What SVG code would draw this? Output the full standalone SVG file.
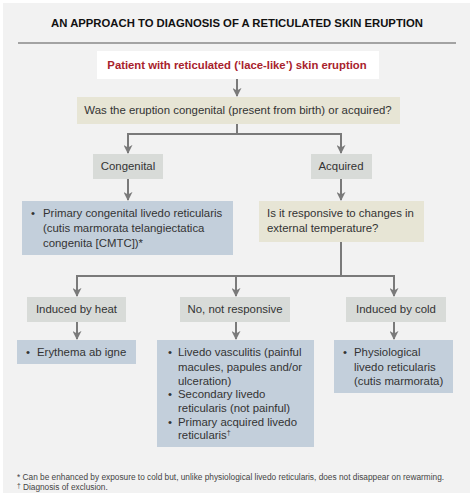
<svg xmlns="http://www.w3.org/2000/svg" width="474" height="496" viewBox="0 0 474 496">
<defs>
<style>
text{font-family:"Liberation Sans",Arial,sans-serif;fill:#333;font-size:11.4px}
.t{font-weight:bold;font-size:11.3px;fill:#111;text-anchor:middle}
.red{font-weight:bold;font-size:11.3px;fill:#a8222c;text-anchor:middle}
.c{text-anchor:middle}
.fn{font-size:8.3px;fill:#444}
.ln{fill:none;stroke:#7a7a7a;stroke-width:2}
.beige{fill:#e7e5d5}
.grey{fill:#d8dbd8}
.blue{fill:#c3cfdb}
</style>
<marker id="ah" viewBox="0 0 10 10" refX="9" refY="5" markerWidth="4.5" markerHeight="4.5" orient="auto" markerUnits="strokeWidth">
<path d="M0,0 L10,5 L0,10 L3,5 Z" fill="#7a7a7a"/>
</marker>
</defs>
<rect x="0" y="0" width="474" height="496" fill="#fff"/>
<rect x="3" y="3" width="467" height="490" fill="#f2f2f2"/>
<text class="t" x="237" y="27">AN APPROACH TO DIAGNOSIS OF A RETICULATED SKIN ERUPTION</text>
<line x1="18" y1="43" x2="456" y2="43" stroke="#555" stroke-width="1"/>

<g id="connectors">
<line class="ln" x1="237" y1="79" x2="237" y2="96" marker-end="url(#ah)"/>
<polyline class="ln" points="237,124 237,134 128,134 128,153" marker-end="url(#ah)"/>
<polyline class="ln" points="237,134 341,134 341,153" marker-end="url(#ah)"/>
<line class="ln" x1="128" y1="179" x2="128" y2="200" marker-end="url(#ah)"/>
<line class="ln" x1="341" y1="179" x2="341" y2="200" marker-end="url(#ah)"/>
<polyline class="ln" points="341,242 341,276 77,276 77,296" marker-end="url(#ah)"/>
<line class="ln" x1="236" y1="276" x2="236" y2="296" marker-end="url(#ah)"/>
<polyline class="ln" points="341,276 394,276 394,296" marker-end="url(#ah)"/>
<line class="ln" x1="77" y1="322" x2="77" y2="339" marker-end="url(#ah)"/>
<line class="ln" x1="236" y1="322" x2="236" y2="339" marker-end="url(#ah)"/>
<line class="ln" x1="394" y1="322" x2="394" y2="339" marker-end="url(#ah)"/>
</g>

<g id="start">
<rect x="97" y="51" width="282" height="28" fill="#fff"/>
<text class="red" x="237" y="69">Patient with reticulated (‘lace-like’) skin eruption</text>
</g>
<g id="q1">
<rect class="beige" x="77" y="97" width="323" height="27"/>
<text class="c" x="238" y="114">Was the eruption congenital (present from birth) or acquired?</text>
</g>
<g id="congenital">
<rect class="grey" x="93" y="154" width="70" height="25"/>
<text class="c" x="128" y="170">Congenital</text>
</g>
<g id="acquired">
<rect class="grey" x="311" y="154" width="61" height="25"/>
<text class="c" x="341" y="170">Acquired</text>
</g>
<g id="cmtc">
<rect class="blue" x="22" y="201" width="211" height="54"/>
<text x="31" y="217">•</text>
<text x="43" y="217">Primary congenital livedo reticularis</text>
<text x="43" y="232">(cutis marmorata telangiectatica</text>
<text x="43" y="247">congenita [CMTC])*</text>
</g>
<g id="q2">
<rect class="beige" x="259" y="201" width="165" height="41"/>
<text x="267" y="217">Is it responsive to changes in</text>
<text x="267" y="232">external temperature?</text>
</g>
<g id="heat">
<rect class="grey" x="27" y="297" width="99" height="25"/>
<text class="c" x="76.5" y="313">Induced by heat</text>
</g>
<g id="noresp">
<rect class="grey" x="180" y="297" width="110" height="25"/>
<text class="c" x="235" y="313">No, not responsive</text>
</g>
<g id="cold">
<rect class="grey" x="346" y="297" width="100" height="25"/>
<text class="c" x="396" y="313">Induced by cold</text>
</g>
<g id="erythema">
<rect class="blue" x="17" y="340" width="119" height="24"/>
<text x="26" y="356">•</text>
<text x="37" y="356">Erythema ab igne</text>
</g>
<g id="livedo">
<rect class="blue" x="157" y="340" width="157" height="107"/>
<text x="168" y="356">•</text>
<text x="178" y="356">Livedo vasculitis (painful</text>
<text x="178" y="370.5">macules, papules and/or</text>
<text x="178" y="385">ulceration)</text>
<text x="168" y="398">•</text>
<text x="178" y="398">Secondary livedo</text>
<text x="178" y="411.5">reticularis (not painful)</text>
<text x="168" y="425.5">•</text>
<text x="178" y="425.5">Primary acquired livedo</text>
<text x="178" y="439">reticularis<tspan font-size="7" dy="-4">†</tspan></text>
</g>
<g id="physio">
<rect class="blue" x="334" y="340" width="119" height="53"/>
<text x="343" y="356">•</text>
<text x="354" y="356">Physiological</text>
<text x="354" y="370.5">livedo reticularis</text>
<text x="354" y="385">(cutis marmorata)</text>
</g>
<g id="footnotes">
<text class="fn" x="17" y="480">* Can be enhanced by exposure to cold but, unlike physiological livedo reticularis, does not disappear on rewarming.</text>
<text class="fn" x="17" y="490"><tspan font-size="6.5" dy="-2">†</tspan><tspan dy="2"> Diagnosis of exclusion.</tspan></text>
</g>
</svg>
